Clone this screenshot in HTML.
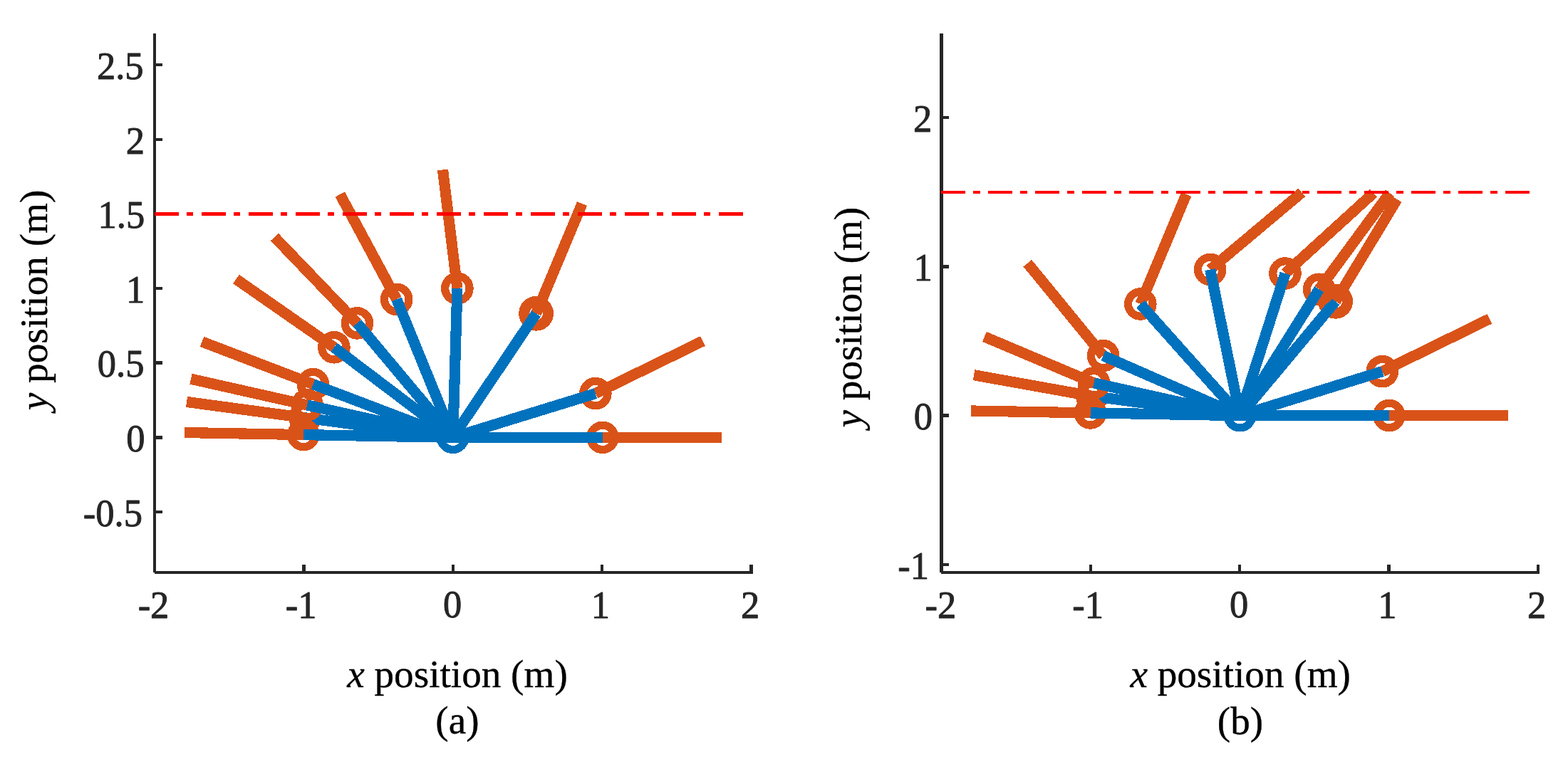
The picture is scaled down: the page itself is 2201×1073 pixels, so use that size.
<!DOCTYPE html>
<html lang="en">
<head>
<meta charset="utf-8">
<title>Two-link arm trajectories</title>
<style>
html,body{margin:0;padding:0;background:#fff;}
body{width:2201px;height:1073px;overflow:hidden;}
svg{display:block;font-family:"Liberation Serif","Times New Roman",serif;}
</style>
</head>
<body>
<svg width="2201" height="1073" viewBox="0 0 2201 1073">
<rect width="2201" height="1073" fill="#fff"/>
<g id="plot-a">
<g fill="#262626" shape-rendering="crispEdges">
<rect x="215" y="47" width="4" height="757"/>
<rect x="217" y="802" width="840" height="4"/>
<rect x="424" y="793" width="5" height="10"/>
<rect x="634" y="793" width="4" height="10"/>
<rect x="843" y="793" width="4" height="10"/>
<rect x="1052" y="793" width="5" height="10"/>
<rect x="215" y="89" width="13" height="4"/>
<rect x="215" y="194" width="13" height="4"/>
<rect x="215" y="403" width="13" height="4"/>
<rect x="215" y="507" width="13" height="5"/>
<rect x="215" y="612" width="13" height="5"/>
<rect x="215" y="717" width="13" height="4"/>
</g>
<g fill="none" stroke-linecap="butt" shape-rendering="crispEdges">
<circle cx="635.7" cy="614.3" r="17.2" stroke="#0072BD" stroke-width="11.2"/>
<circle cx="845.9" cy="614.3" r="17.2" stroke="#D95319" stroke-width="11.2"/>
<line x1="845.9" y1="614.3" x2="1013" y2="614.3" stroke="#D95319" stroke-width="15.2"/>
<line x1="635.7" y1="614.3" x2="845.9" y2="614.3" stroke="#0072BD" stroke-width="15.2"/>
<circle cx="835.85" cy="552.6" r="17.2" stroke="#D95319" stroke-width="11.2"/>
<line x1="835.85" y1="552.6" x2="986.6" y2="479" stroke="#D95319" stroke-width="15.2"/>
<line x1="635.7" y1="614.3" x2="835.85" y2="552.6" stroke="#0072BD" stroke-width="15.2"/>
<circle cx="752.6" cy="440.3" r="16.9" stroke="#D95319" stroke-width="15.0"/>
<line x1="752.6" y1="440.3" x2="817.1" y2="286.05" stroke="#D95319" stroke-width="15.2"/>
<line x1="635.7" y1="614.3" x2="752.6" y2="440.3" stroke="#0072BD" stroke-width="15.2"/>
<circle cx="641.9" cy="405" r="17.2" stroke="#D95319" stroke-width="11.2"/>
<line x1="641.9" y1="405" x2="621.5" y2="238.4" stroke="#D95319" stroke-width="15.2"/>
<line x1="635.7" y1="614.3" x2="641.9" y2="405" stroke="#0072BD" stroke-width="15.2"/>
<circle cx="556.7" cy="420.4" r="17.2" stroke="#D95319" stroke-width="11.2"/>
<line x1="556.7" y1="420.4" x2="477.3" y2="273" stroke="#D95319" stroke-width="15.2"/>
<line x1="635.7" y1="614.3" x2="556.7" y2="420.4" stroke="#0072BD" stroke-width="15.2"/>
<circle cx="501.4" cy="453.9" r="17.2" stroke="#D95319" stroke-width="11.2"/>
<line x1="501.4" y1="453.9" x2="385.3" y2="332.9" stroke="#D95319" stroke-width="15.2"/>
<line x1="635.7" y1="614.3" x2="501.4" y2="453.9" stroke="#0072BD" stroke-width="15.2"/>
<circle cx="468.9" cy="487.8" r="17.2" stroke="#D95319" stroke-width="11.2"/>
<line x1="468.9" y1="487.8" x2="331.4" y2="392" stroke="#D95319" stroke-width="15.2"/>
<line x1="635.7" y1="614.3" x2="468.9" y2="487.8" stroke="#0072BD" stroke-width="15.2"/>
<circle cx="439.5" cy="539.6" r="17.2" stroke="#D95319" stroke-width="11.2"/>
<line x1="439.5" y1="539.6" x2="283.5" y2="479.9" stroke="#D95319" stroke-width="15.2"/>
<line x1="635.7" y1="614.3" x2="439.5" y2="539.6" stroke="#0072BD" stroke-width="15.2"/>
<circle cx="428" cy="586.8" r="17.2" stroke="#D95319" stroke-width="11.2"/>
<line x1="428" y1="586.8" x2="262" y2="564.4" stroke="#D95319" stroke-width="15.2"/>
<line x1="635.7" y1="614.3" x2="428" y2="586.8" stroke="#0072BD" stroke-width="15.2"/>
<circle cx="431.1" cy="568.9" r="17.2" stroke="#D95319" stroke-width="11.2"/>
<line x1="431.1" y1="568.9" x2="268" y2="532.2" stroke="#D95319" stroke-width="15.2"/>
<line x1="635.7" y1="614.3" x2="431.1" y2="568.9" stroke="#0072BD" stroke-width="15.2"/>
<circle cx="425.9" cy="610.6" r="17.2" stroke="#D95319" stroke-width="11.2"/>
<line x1="425.9" y1="610.6" x2="259.2" y2="607.5" stroke="#D95319" stroke-width="15.2"/>
<line x1="635.7" y1="614.3" x2="425.9" y2="610.6" stroke="#0072BD" stroke-width="15.2"/>
<line x1="217" y1="300.5" x2="1044" y2="300.5" stroke="#FF0000" stroke-width="5" stroke-dasharray="34 11 9 12"/>
</g>
<g fill="#262626" stroke="#262626" stroke-width="0.9" stroke-linejoin="round" font-size="52.5">
<text transform="translate(215.5 867.8) scale(1 1.065)" text-anchor="middle">-2</text>
<text transform="translate(422.63 867.8) scale(1 1.065)" text-anchor="middle">-1</text>
<text transform="translate(635.1 866.8) scale(1 1.065)" text-anchor="middle">0</text>
<text transform="translate(842.95 867.8) scale(1 1.065)" text-anchor="middle">1</text>
<text transform="translate(1053 867.8) scale(1 1.065)" text-anchor="middle">2</text>
<text transform="translate(201.55 110.8) scale(1 1.065)" text-anchor="end">2.5</text>
<text transform="translate(203 215.8) scale(1 1.065)" text-anchor="end">2</text>
<text transform="translate(203.2 320.2) scale(1 1.065)" text-anchor="end">1.5</text>
<text transform="translate(203.36 424.8) scale(1 1.065)" text-anchor="end">1</text>
<text transform="translate(202.4 529.4) scale(1 1.065)" text-anchor="end">0.5</text>
<text transform="translate(203.43 634.2) scale(1 1.065)" text-anchor="end">0</text>
<text transform="translate(199.9 739) scale(1 1.065)" text-anchor="end">-0.5</text>
</g>
<g fill="#000" stroke="#000" stroke-width="0.35" font-size="55.2" text-anchor="middle">
<text x="642" y="964.55"><tspan font-style="italic">x</tspan> position (m)</text>
<text x="641.95" y="1030.4">(a)</text>
<text transform="translate(66 421.45) rotate(-90)"><tspan font-style="italic">y</tspan> position (m)</text>
</g>
</g>
<g id="plot-b">
<g fill="#262626" shape-rendering="crispEdges">
<rect x="1319" y="47" width="5" height="757"/>
<rect x="1321" y="802" width="840" height="4"/>
<rect x="1529" y="793" width="4" height="10"/>
<rect x="1738" y="793" width="4" height="10"/>
<rect x="1947" y="793" width="5" height="10"/>
<rect x="2157" y="793" width="4" height="10"/>
<rect x="1319" y="163" width="13" height="4"/>
<rect x="1319" y="372" width="13" height="5"/>
<rect x="1319" y="581" width="13" height="5"/>
<rect x="1319" y="791" width="13" height="4"/>
</g>
<g fill="none" stroke-linecap="butt" shape-rendering="crispEdges">
<circle cx="1740.5" cy="583.67" r="17.2" stroke="#0072BD" stroke-width="11.2"/>
<circle cx="1949.9" cy="583.5" r="17.2" stroke="#D95319" stroke-width="11.2"/>
<line x1="1949.9" y1="583.5" x2="2117" y2="583.5" stroke="#D95319" stroke-width="15.2"/>
<line x1="1740.5" y1="583.67" x2="1949.9" y2="583.5" stroke="#0072BD" stroke-width="15.2"/>
<circle cx="1940.4" cy="521.6" r="17.2" stroke="#D95319" stroke-width="11.2"/>
<line x1="1940.4" y1="521.6" x2="2090.8" y2="447.9" stroke="#D95319" stroke-width="15.2"/>
<line x1="1740.5" y1="583.67" x2="1940.4" y2="521.6" stroke="#0072BD" stroke-width="15.2"/>
<circle cx="1874.6" cy="423.3" r="16.9" stroke="#D95319" stroke-width="15.0"/>
<line x1="1874.6" y1="423.3" x2="1961" y2="279.8" stroke="#D95319" stroke-width="15.2"/>
<line x1="1740.5" y1="583.67" x2="1874.6" y2="423.3" stroke="#0072BD" stroke-width="15.2"/>
<circle cx="1851.6" cy="406.3" r="17.2" stroke="#D95319" stroke-width="11.2"/>
<line x1="1851.6" y1="406.3" x2="1950.8" y2="271.2" stroke="#D95319" stroke-width="15.2"/>
<line x1="1740.5" y1="583.67" x2="1851.6" y2="406.3" stroke="#0072BD" stroke-width="15.2"/>
<circle cx="1804" cy="384" r="17.2" stroke="#D95319" stroke-width="11.2"/>
<line x1="1804" y1="384" x2="1927.8" y2="271.2" stroke="#D95319" stroke-width="15.2"/>
<line x1="1740.5" y1="583.67" x2="1804" y2="384" stroke="#0072BD" stroke-width="15.2"/>
<circle cx="1698.7" cy="378.5" r="17.2" stroke="#D95319" stroke-width="11.2"/>
<line x1="1698.7" y1="378.5" x2="1827.3" y2="270.4" stroke="#D95319" stroke-width="15.2"/>
<line x1="1740.5" y1="583.67" x2="1698.7" y2="378.5" stroke="#0072BD" stroke-width="15.2"/>
<circle cx="1600.8" cy="427" r="17.2" stroke="#D95319" stroke-width="11.2"/>
<line x1="1600.8" y1="427" x2="1665.2" y2="272.9" stroke="#D95319" stroke-width="15.2"/>
<line x1="1740.5" y1="583.67" x2="1600.8" y2="427" stroke="#0072BD" stroke-width="15.2"/>
<circle cx="1548.6" cy="499.5" r="17.2" stroke="#D95319" stroke-width="11.2"/>
<line x1="1548.6" y1="499.5" x2="1442.3" y2="369.7" stroke="#D95319" stroke-width="15.2"/>
<line x1="1740.5" y1="583.67" x2="1548.6" y2="499.5" stroke="#0072BD" stroke-width="15.2"/>
<circle cx="1532.8" cy="556.4" r="17.2" stroke="#D95319" stroke-width="11.2"/>
<line x1="1532.8" y1="556.4" x2="1367.1" y2="526.7" stroke="#D95319" stroke-width="15.2"/>
<line x1="1740.5" y1="583.67" x2="1532.8" y2="556.4" stroke="#0072BD" stroke-width="15.2"/>
<circle cx="1535.5" cy="537.9" r="17.2" stroke="#D95319" stroke-width="11.2"/>
<line x1="1535.5" y1="537.9" x2="1381.9" y2="472.9" stroke="#D95319" stroke-width="15.2"/>
<line x1="1740.5" y1="583.67" x2="1535.5" y2="537.9" stroke="#0072BD" stroke-width="15.2"/>
<circle cx="1530.6" cy="579.9" r="17.2" stroke="#D95319" stroke-width="11.2"/>
<line x1="1530.6" y1="579.9" x2="1363.1" y2="577" stroke="#D95319" stroke-width="15.2"/>
<line x1="1740.5" y1="583.67" x2="1530.6" y2="579.9" stroke="#0072BD" stroke-width="15.2"/>
<line x1="1321" y1="270" x2="2149" y2="270" stroke="#FF0000" stroke-width="4" stroke-dasharray="34 11 10 11"/>
</g>
<g fill="#262626" stroke="#262626" stroke-width="0.9" stroke-linejoin="round" font-size="52.5">
<text transform="translate(1320.35 867.8) scale(1 1.065)" text-anchor="middle">-2</text>
<text transform="translate(1527.1 867.8) scale(1 1.065)" text-anchor="middle">-1</text>
<text transform="translate(1739.1 866.8) scale(1 1.065)" text-anchor="middle">0</text>
<text transform="translate(1947.45 867.8) scale(1 1.065)" text-anchor="middle">1</text>
<text transform="translate(2157 867.8) scale(1 1.065)" text-anchor="middle">2</text>
<text transform="translate(1308.35 184.8) scale(1 1.065)" text-anchor="end">2</text>
<text transform="translate(1308.8 393.8) scale(1 1.065)" text-anchor="end">1</text>
<text transform="translate(1309.1 603.2) scale(1 1.065)" text-anchor="end">0</text>
<text transform="translate(1304 812.8) scale(1 1.065)" text-anchor="end">-1</text>
</g>
<g fill="#000" stroke="#000" stroke-width="0.35" font-size="55.2" text-anchor="middle">
<text x="1741.2" y="964.55"><tspan font-style="italic">x</tspan> position (m)</text>
<text x="1741" y="1030.9">(b)</text>
<text transform="translate(1209 445.65) rotate(-90)"><tspan font-style="italic">y</tspan> position (m)</text>
</g>
</g>
</svg>
</body>
</html>
